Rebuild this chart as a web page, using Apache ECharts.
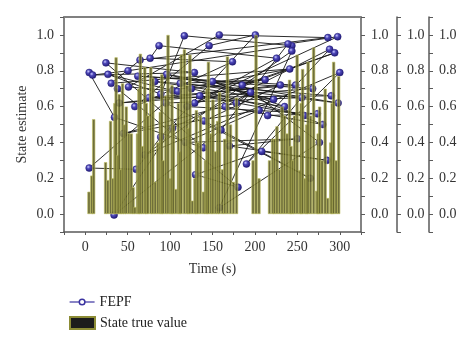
<!DOCTYPE html>
<html><head><meta charset="utf-8">
<script src="https://cdn.jsdelivr.net/npm/echarts@6/dist/echarts.min.js"></script>
<style>html,body{margin:0;padding:0;background:#fff}#c{width:474px;height:342px}</style>
</head><body><div id="c"></div>
<script>
// State true value bars: time (s) and value
const barTime = [4.4,7.7,10,24,26.6,29.9,32.7,35,36.4,38.5,40.1,42,44,46.2,48.4,51.4,54.3,56.5,58.7,61.6,63.3,65,67.5,70.2,72,73.8,77.3,79.7,82.6,85.6,88.5,90.3,92,95,97.6,100.4,102.2,104,106.8,109.8,111.5,113.3,116.9,119.8,121.6,123.4,126.3,129.3,131,132.8,135.8,139.3,141.7,143.5,145.2,148.2,150.5,153.5,156,158.2,161.7,164.5,167.6,171.2,174.7,178.3,197.8,201.3,204.8,217.2,220.8,223.1,226,229,232,234.9,237.9,240.8,242.5,244.4,246.7,249.7,252.7,254.5,256.2,259.2,261,262.7,265.6,269.2,272.7,274.5,276.3,279.2,282.8,285.7,289.3,291,292.8,295.8,298.7];
const barValue = [0.125,0.215,0.53,0.29,0.19,0.52,0.20,0.62,0.875,0.33,0.67,0.25,0.73,0.50,0.60,0.45,0.45,0.15,0.04,0.45,0.70,0.895,0.38,0.82,0.62,0.55,0.82,0.76,0.18,0.40,0.57,0.78,0.30,0.66,1.0,0.20,0.72,0.50,0.14,0.62,0.35,0.89,0.92,0.72,0.48,0.89,0.075,0.20,0.58,0.40,0.55,0.125,0.30,0.70,0.85,0.45,0.64,0.35,0.52,0.68,0.25,0.42,0.88,0.50,0.18,0.65,0.30,1.0,0.20,0.30,0.42,0.42,0.49,0.25,0.60,0.55,0.45,0.75,0.38,0.30,0.55,0.89,0.245,0.62,0.81,0.20,0.50,0.85,0.55,0.93,0.13,0.45,0.60,0.30,0.70,0.09,0.40,0.62,0.85,0.30,0.77];
// FEPF estimates, in drawing order
const fepfTime = [4.7,34.5,139.3,24.4,128.7,8.7,50.5,243.5,116.8,89,26.8,103,241,30.7,64.6,286,158,51,109,4.7,60,89,200.5,146,58.5,173.5,76.5,87,225.5,129,297.5,239,160,34,103,288,215,273.5,120,294,185,276,158,243.5,70,300,190,255,95,265,140,230,40,268,62,248,75,290,82,222,96,298,112,212,125,258,135,235,150,280,165,195,178,45,205,118,250,170,285,208,130,180,38];
const fepfValue = [0.79,0.54,0.37,0.844,0.79,0.776,0.80,0.94,0.995,0.67,0.78,0.69,0.81,0.73,0.86,0.985,1.0,0.71,0.685,0.257,0.25,0.43,1.0,0.94,0.60,0.85,0.87,0.94,0.87,0.62,0.99,0.95,0.47,-0.005,0.48,0.92,0.55,0.56,0.60,0.90,0.72,0.40,0.035,0.91,0.33,0.79,0.28,0.65,0.62,0.20,0.52,0.72,0.62,0.70,0.77,0.72,0.65,0.66,0.74,0.64,0.78,0.62,0.73,0.75,0.70,0.55,0.66,0.60,0.74,0.50,0.60,0.68,0.62,0.45,0.58,0.40,0.42,0.38,0.30,0.35,0.22,0.15,0.70];
const xTickLabels = [0,50,100,150,200,250,300];
const yTickLabels = [0,0.2,0.4,0.6,0.8,1.0];

const FONT = 'Liberation Serif';
const axisColor = '#5a5a5a';
function yFmt(v){ for (const t of yTickLabels){ if (Math.abs(v-t)<1e-6) return t.toFixed(1);} return ''; }
function xFmt(v){ for (const t of xTickLabels){ if (Math.abs(v-t)<1e-6) return String(t);} return ''; }
function yAxisDef(pos, offset, showName){
  return {
    type:'value', position:pos, offset:offset, min:-0.1, max:1.1, interval:0.1,
    splitLine:{show:false},
    axisLine:{show:true, onZero:false, lineStyle:{color:axisColor, width:1.5}},
    axisTick:{show:true, inside:false, length:4, lineStyle:{color:axisColor, width:1}},
    axisLabel:{show:true, margin:10, formatter:yFmt, fontFamily:FONT, fontSize:14, color:'#333', showMinLabel:true, showMaxLabel:true},
    name: showName ? 'State estimate' : '', nameLocation:'middle', nameGap:35, nameRotate:90,
    nameMoveOverlap:false,
    nameTextStyle:{fontFamily:FONT, fontSize:14, color:'#333'}
  };
}
const chart = echarts.init(document.getElementById('c'), null, {renderer:'canvas'});
const sphere = {type:'radial', x:0.38, y:0.35, r:0.7, colorStops:[
  {offset:0, color:'#c8c8ff'},{offset:0.35, color:'#4d47b8'},{offset:1, color:'#1d1670'}]};
chart.setOption({
  animation:false,
  grid:{left:64, right:113, top:17, bottom:110, containLabel:false},
  xAxis:[{
    type:'value', min:-25, max:325, interval:25, position:'bottom',
    splitLine:{show:false},
    axisLine:{show:true, onZero:false, lineStyle:{color:axisColor, width:1.5}},
    axisTick:{show:true, inside:false, length:3, lineStyle:{color:axisColor}},
    axisLabel:{formatter:xFmt, fontFamily:FONT, fontSize:14, color:'#333', margin:8, showMinLabel:true, showMaxLabel:true},
    name:'Time (s)', nameLocation:'middle', nameGap:30, nameMoveOverlap:false,
    nameTextStyle:{fontFamily:FONT, fontSize:14, color:'#333'}
  },{
    type:'value', min:-25, max:325, position:'top',
    splitLine:{show:false}, axisTick:{show:false}, axisLabel:{show:false},
    axisLine:{show:true, onZero:false, lineStyle:{color:'#808080', width:2}}
  }],
  yAxis:[yAxisDef('left',0,true), yAxisDef('right',0,false), yAxisDef('right',36,false), yAxisDef('right',68,false)],
  legend:[{
    data:[{name:'FEPF', itemStyle:{color:'#ffffff', borderColor:'#3b33a0', borderWidth:1.5}, lineStyle:{color:'#3b33a0', width:1.2}}],
    left:64, top:289, itemWidth:25, itemHeight:7, selectedMode:false,
    textStyle:{fontFamily:FONT, fontSize:14, color:'#222', padding:0, lineHeight:16}
  },{
    data:[{name:'State true value', icon:'rect', itemStyle:{color:'#1c1c1c', borderColor:'#8c8c35', borderWidth:2, opacity:1}}],
    left:64, top:310, itemWidth:25, itemHeight:12, selectedMode:false,
    textStyle:{fontFamily:FONT, fontSize:14, color:'#222', padding:0, lineHeight:16}
  }],
  series:[{
    name:'FEPF', type:'line', xAxisIndex:0, yAxisIndex:0,
    data: fepfTime.map((t,i)=>[t, fepfValue[i]]),
    symbol:'circle', symbolSize:7, showAllSymbol:true,
    lineStyle:{color:'#151515', width:0.9},
    itemStyle:{color:sphere, borderColor:'#1d1670', borderWidth:0.5},
    z:2
  },{
    name:'State true value', type:'bar', xAxisIndex:0, yAxisIndex:0,
    data: barTime.map((t,i)=>[t, barValue[i]]),
    barWidth:3.2,
    itemStyle:{color:'#5a5a22', borderColor:'#c0c060', borderWidth:0.7, opacity:0.88},
    z:3
  }]
});
</script></body></html>
